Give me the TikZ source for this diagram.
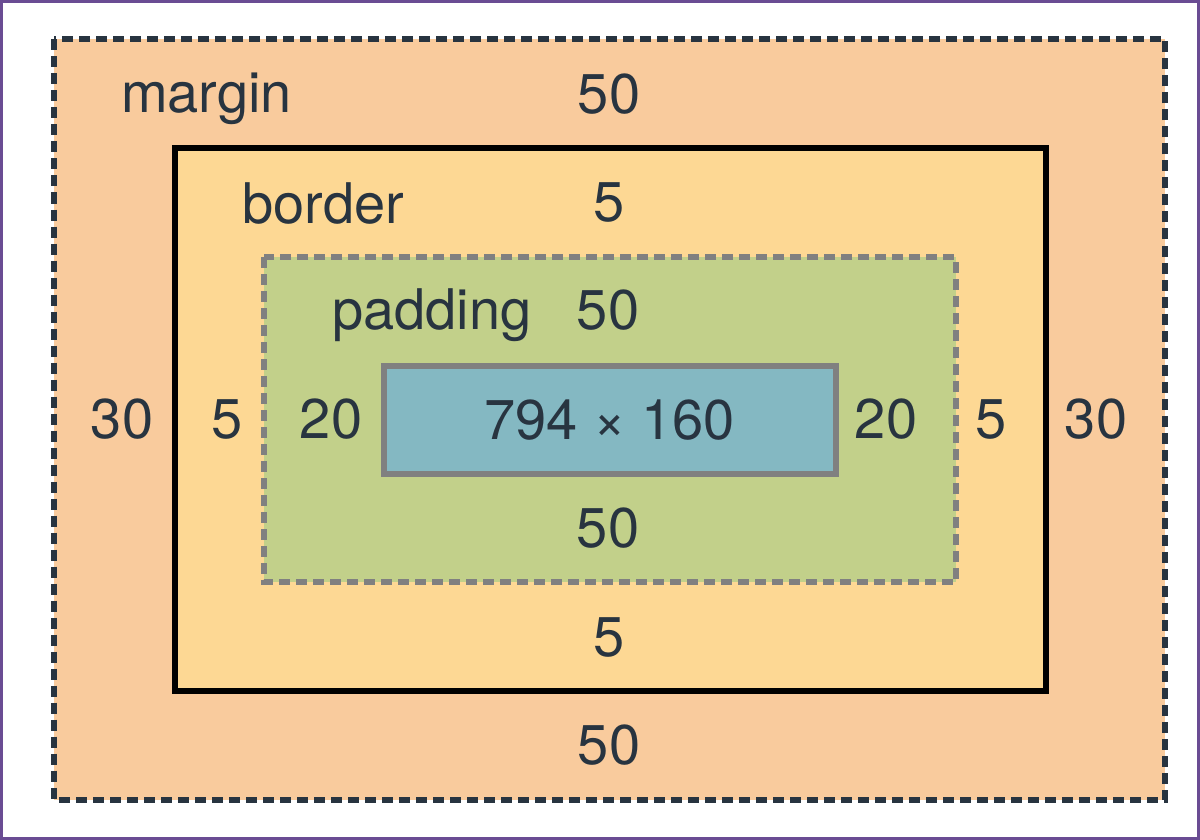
\documentclass[tikz,border=0pt]{standalone}
\usepackage{fontspec}
\setmainfont{TeX Gyre Heros}
\usepackage{xcolor}
\usepackage{tikz}

\definecolor{framepurple}{HTML}{6A4C93}
\definecolor{inkdark}{HTML}{283440}
\definecolor{marginfill}{HTML}{F9CB9D}
\definecolor{borderfill}{HTML}{FDD894}
\definecolor{paddingfill}{HTML}{C2D08A}
\definecolor{contentfill}{HTML}{84B8C2}
\definecolor{linegray}{HTML}{808080}

\tikzset{
    lbl/.style={text=inkdark, font=\fontsize{56}{60}\selectfont, inner sep=0pt},
    boxdash/.style={line width=6pt, dash pattern=on 11pt off 6pt}
}

\begin{document}
\begin{tikzpicture}[x=1pt, y=-1pt]
    % Draw the frame
    \useasboundingbox (0,0) rectangle (1200,840);
    \fill[white] (0,0) rectangle (1200,840);
    \draw[framepurple, line width=3pt] (1.5,1.5) rectangle (1198.5,838.5);

    % Draw the boxes
    \filldraw[fill=marginfill, draw=inkdark, boxdash] (54,39.5) rectangle (1165,799.5);
    \filldraw[fill=borderfill, draw=black, line width=6pt] (174.5,148) rectangle (1045.5,690.5);
    \filldraw[fill=paddingfill, draw=linegray, boxdash] (264,257) rectangle (955.5,582);
    \node[lbl, draw=linegray, fill=contentfill, line width=6pt,
          minimum width=451.5pt, minimum height=108.5pt] (content) at (609.75,419.75) {794 × 160};

    % Place the box names
    \node[lbl, anchor=base west] (marginname) at (121,113) {margin};
    \node[lbl, anchor=base west] (bordername) at (242,223) {border};
    \node[lbl, anchor=base west] (paddingname) at (332,329) {padding};

    % Place the top and bottom sizes
    \node[lbl] (margintop) at (609,94) {50};
    \node[lbl] (bordertop) at (609,202) {5};
    \node[lbl] (paddingtop) at (608,310) {50};
    \node[lbl] (paddingbottom) at (608,528) {50};
    \node[lbl] (borderbottom) at (609,637) {5};
    \node[lbl] (marginbottom) at (609,745) {50};

    % Place the left and right sizes
    \node[lbl] (marginleft) at (122,419) {30};
    \node[lbl] (borderleft) at (227,419) {5};
    \node[lbl] (paddingleft) at (331,419) {20};
    \node[lbl] (paddingright) at (886,419) {20};
    \node[lbl] (borderright) at (991,419) {5};
    \node[lbl] (marginright) at (1096,419) {30};
\end{tikzpicture}
\end{document}
